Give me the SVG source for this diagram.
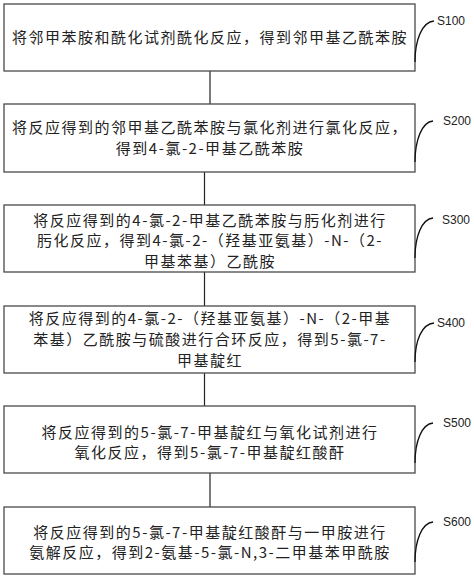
<svg xmlns="http://www.w3.org/2000/svg" width="474" height="579" viewBox="0 0 474 579">
<style>
.box{fill:#fff;stroke:#4a4a4a;stroke-width:1.3}
.t{font-family:"Noto Sans CJK SC","Noto Sans",sans-serif;font-size:15px;fill:#222;text-anchor:middle;letter-spacing:1.5px}
.lbl{font-family:"Liberation Sans",Arial,sans-serif;font-size:12px;fill:#222}
.cv{fill:none;stroke:#111;stroke-width:1.3}
.cn{stroke:#222;stroke-width:1.2}
</style>
<rect width="474" height="579" fill="#fff"/>
<g id="connectors">
<line class="cn" x1="210" y1="71" x2="210" y2="104"/>
<line class="cn" x1="204.5" y1="172" x2="204.5" y2="205"/>
<line class="cn" x1="204.5" y1="272" x2="204.5" y2="306"/>
<line class="cn" x1="204.5" y1="373" x2="204.5" y2="406"/>
<line class="cn" x1="210" y1="473" x2="210" y2="507"/>
</g>
<g id="s100">
<rect class="box" x="4" y="4" width="411" height="67"/>
<text class="t" x="210" y="43">将邻甲苯胺和酰化试剂酰化反应，得到邻甲基乙酰苯胺</text>
<path class="cv" d="M415,62 C415,40 422,22 434,21"/>
<text class="lbl" x="437" y="25">S100</text>
</g>
<g id="s200">
<rect class="box" x="4" y="104" width="411" height="68"/>
<text class="t" x="210" y="133">将反应得到的邻甲基乙酰苯胺与氯化剂进行氯化反应，</text>
<text class="t" x="210" y="154">得到4-氯-2-甲基乙酰苯胺</text>
<path class="cv" d="M415,162 C415,140 422,122 433,121"/>
<text class="lbl" x="443" y="125">S200</text>
</g>
<g id="s300">
<rect class="box" x="4" y="205" width="411" height="67"/>
<text class="t" x="210" y="225.5">将反应得到的4-氯-2-甲基乙酰苯胺与肟化剂进行</text>
<text class="t" x="210" y="246">肟化反应，得到4-氯-2-（羟基亚氨基）-N-（2-</text>
<text class="t" x="210" y="266.5">甲基苯基）乙酰胺</text>
<path class="cv" d="M415,258 C415,236 422,219 433,218"/>
<text class="lbl" x="442" y="224">S300</text>
</g>
<g id="s400">
<rect class="box" x="4" y="306" width="411" height="67"/>
<text class="t" x="210" y="323.5">将反应得到的4-氯-2-（羟基亚氨基）-N-（2-甲基</text>
<text class="t" x="210" y="344.5">苯基）乙酰胺与硫酸进行合环反应，得到5-氯-7-</text>
<text class="t" x="210" y="365.5">甲基靛红</text>
<path class="cv" d="M415,362 C415,340 422,324 434,323"/>
<text class="lbl" x="437" y="327">S400</text>
</g>
<g id="s500">
<rect class="box" x="4" y="406" width="411" height="67"/>
<text class="t" x="210" y="437.5">将反应得到的5-氯-7-甲基靛红与氧化试剂进行</text>
<text class="t" x="210" y="457.5">氧化反应，得到5-氯-7-甲基靛红酸酐</text>
<path class="cv" d="M415,463 C415,441 422,424 433,423"/>
<text class="lbl" x="443" y="427">S500</text>
</g>
<g id="s600">
<rect class="box" x="4" y="507" width="411" height="67"/>
<text class="t" x="210" y="537.5">将反应得到的5-氯-7-甲基靛红酸酐与一甲胺进行</text>
<text class="t" x="210" y="557.5">氨解反应，得到2-氨基-5-氯-N,3-二甲基苯甲酰胺</text>
<path class="cv" d="M415,562 C415,540 422,523 433,522"/>
<text class="lbl" x="443" y="526">S600</text>
</g>
</svg>
